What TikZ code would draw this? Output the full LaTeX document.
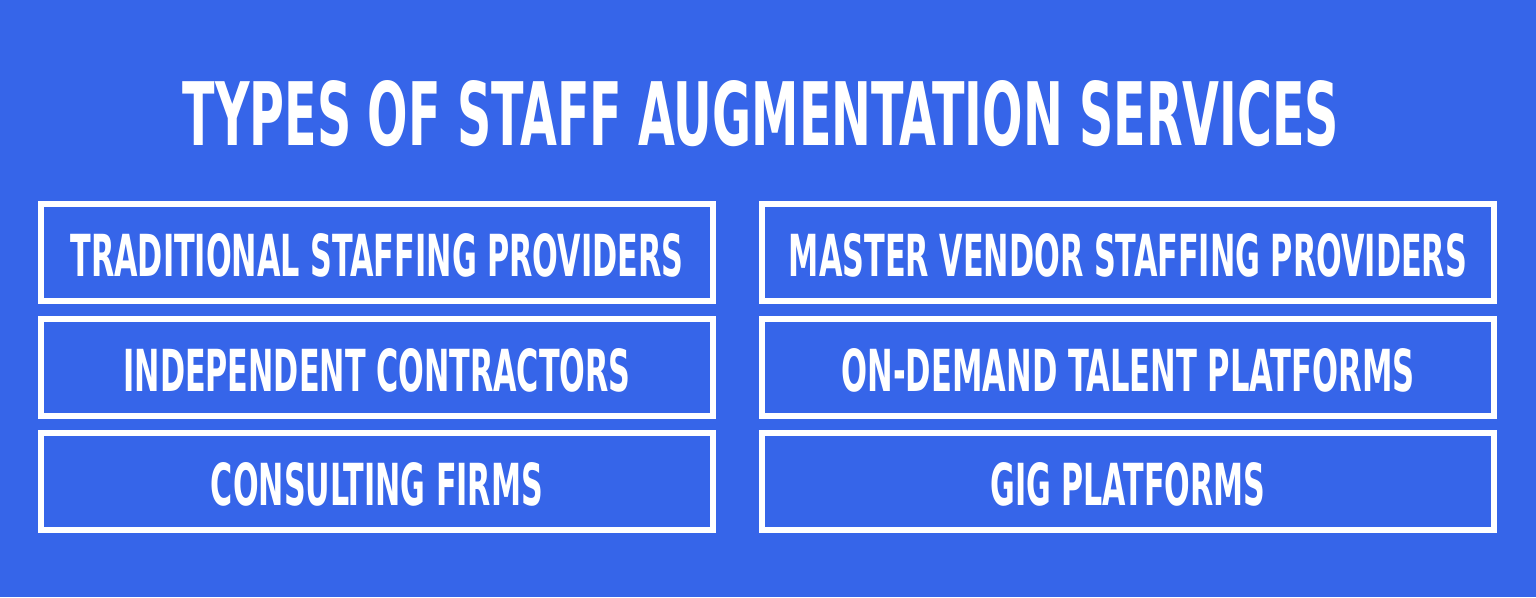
\documentclass[tikz,border=0pt]{standalone}
\usepackage{fontspec}
\setmainfont{DejaVu Sans Condensed}
\definecolor{bgblue}{RGB}{54,101,233}
\tikzset{
  card/.style={draw=white, line width=6pt, fill=bgblue, minimum height=97pt, inner sep=0pt},
  leftcard/.style={card, minimum width=672pt},
  rightcard/.style={card, minimum width=732pt},
  lbl/.style={text=white, inner sep=0pt, yshift=-3pt},
}
\newcommand{\fittext}[3]{\resizebox{#1pt}{#2pt}{\bfseries #3}}
\begin{document}
\begin{tikzpicture}[x=1pt,y=-1pt]
  \fill[bgblue] (0,0) rectangle (1536,597);
  \useasboundingbox (0,0) rectangle (1536,597);
  \node[text=white, inner sep=0pt] (title) at (761,113.5) {\fittext{1156}{65}{TYPES OF STAFF AUGMENTATION SERVICES}};
  \node[leftcard]  (b1) at (377,252.5) {};
  \node[leftcard]  (b2) at (377,367) {};
  \node[leftcard]  (b3) at (377,481.5) {};
  \node[rightcard] (b4) at (1128,252.5) {};
  \node[rightcard] (b5) at (1128,367) {};
  \node[rightcard] (b6) at (1128,481.5) {};
  \node[lbl] (t1) at (b1) {\fittext{613}{43}{TRADITIONAL STAFFING PROVIDERS}};
  \node[lbl] (t2) at (b2) {\fittext{507}{43}{INDEPENDENT CONTRACTORS}};
  \node[lbl] (t3) at (b3) {\fittext{332}{43}{CONSULTING FIRMS}};
  \node[lbl] (t4) at (b4) {\fittext{678}{43}{MASTER VENDOR STAFFING PROVIDERS}};
  \node[lbl] (t5) at (b5) {\fittext{573}{43}{ON-DEMAND TALENT PLATFORMS}};
  \node[lbl] (t6) at (b6) {\fittext{275}{43}{GIG PLATFORMS}};
\end{tikzpicture}
\end{document}
